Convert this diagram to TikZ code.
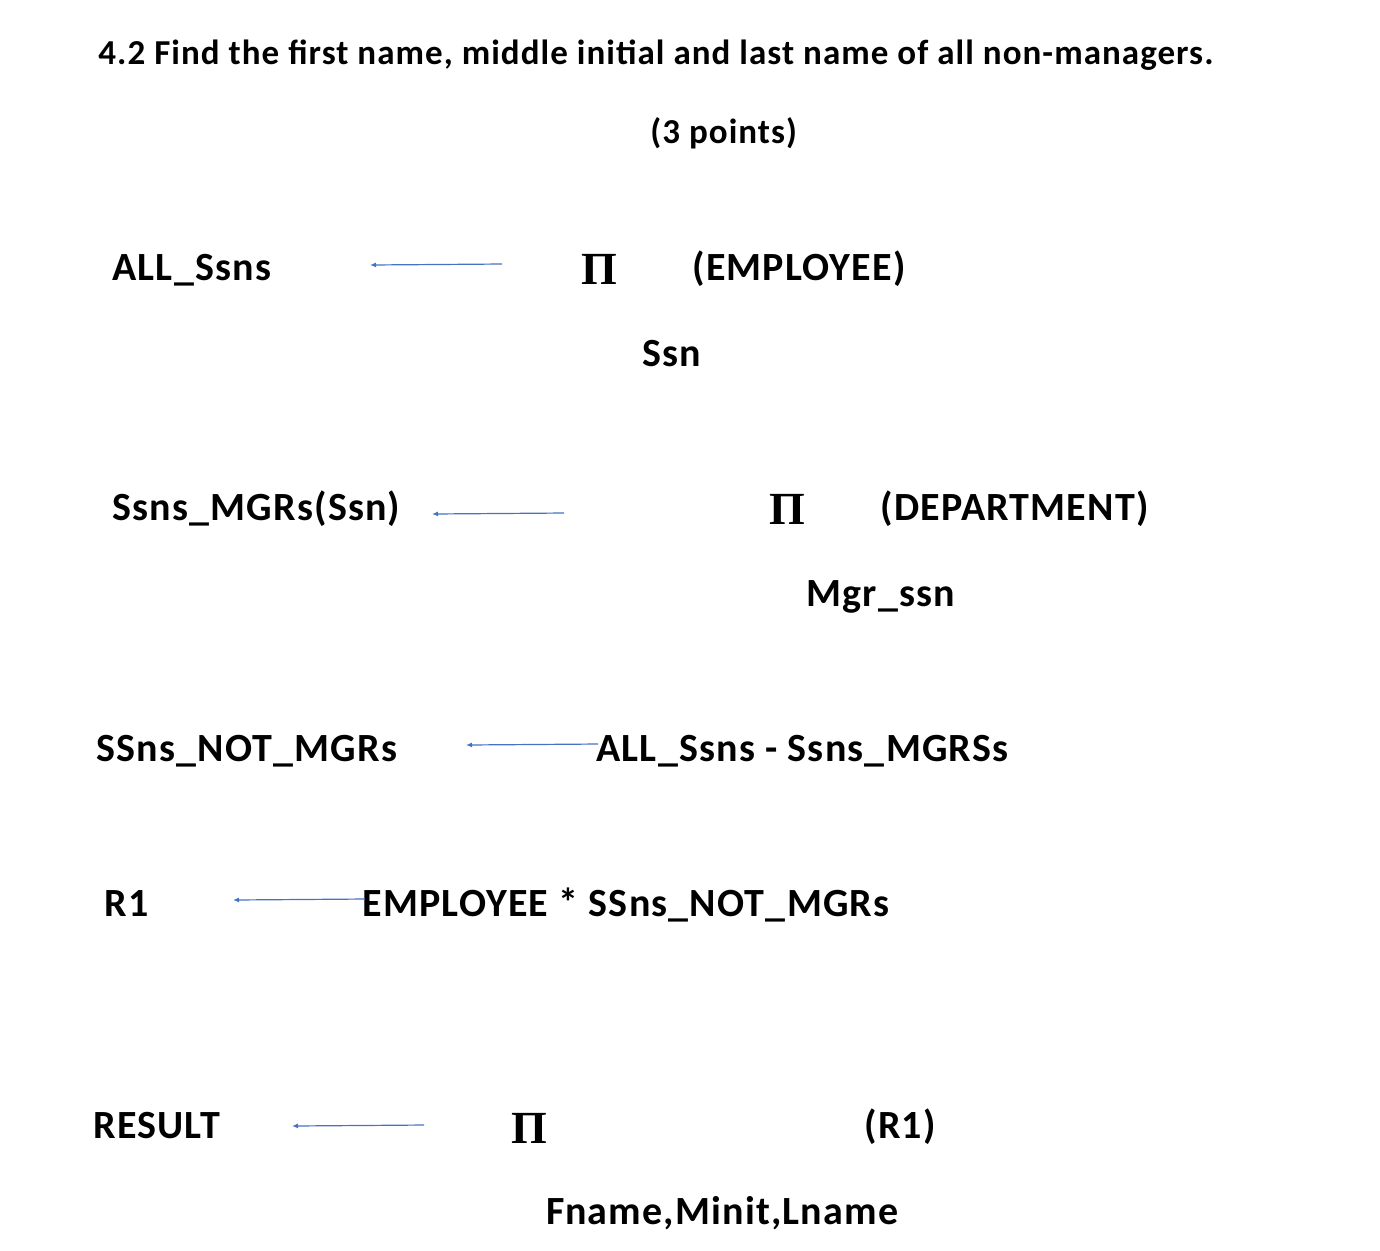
\documentclass[tikz,border=0pt]{standalone}
\usepackage{fontspec}
\setmainfont{Carlito}[LetterSpace=3]
\newfontfamily\pifont{Liberation Serif}
\usetikzlibrary{arrows.meta}
\definecolor{arrblue}{HTML}{4472C4}
\begin{document}
\begin{tikzpicture}[x=0.5pt,y=-0.5pt,
  lbl/.style={anchor=base west,inner sep=0pt,font=\fontsize{20}{22}\selectfont\bfseries},
  pisym/.style={anchor=base west,inner sep=0pt,font=\pifont\fontsize{23}{26}\selectfont\bfseries},
  arr/.style={draw=arrblue,line width=0.6pt,-{Latex[length=3pt,width=2.5pt]}}]
\useasboundingbox (0,0) rectangle (1380,1250);
\node[lbl,font=\fontsize{17.5}{20}\selectfont\bfseries] (title) at (98,64) {4.2 Find the first name, middle initial and last name of all non-managers.};
\node[lbl,font=\fontsize{17.5}{20}\selectfont\bfseries] (pts) at (650,143) {(3 points)};
\node[lbl] (a1) at (112,280) {ALL\_Ssns};
\node[pisym] (p1) at (581,284) {Π};
\node[lbl] (e1) at (692,280) {(EMPLOYEE)};
\node[lbl] (s1) at (642,366) {Ssn};
\coordinate (t1) at (502,264); \coordinate (h1) at (370,265);
\draw[arr] (t1) -- (h1);
\node[lbl] (a2) at (112,520) {Ssns\_MGRs(Ssn)};
\node[pisym] (p2) at (769,524) {Π};
\node[lbl] (e2) at (880,520) {(DEPARTMENT)};
\node[lbl] (s2) at (806,606) {Mgr\_ssn};
\coordinate (t2) at (564,513); \coordinate (h2) at (432,514);
\draw[arr] (t2) -- (h2);
\node[lbl] (a3) at (96,761) {SSns\_NOT\_MGRs};
\node[lbl] (e3) at (596,761) {ALL\_Ssns - Ssns\_MGRSs};
\coordinate (t3) at (598,744); \coordinate (h3) at (466,745);
\draw[arr] (t3) -- (h3);
\node[lbl] (a4) at (104,916) {R1};
\node[lbl] (e4) at (362,916) {EMPLOYEE * SSns\_NOT\_MGRs};
\coordinate (t4) at (365,899); \coordinate (h4) at (233,900);
\draw[arr] (t4) -- (h4);
\node[lbl] (a5) at (93,1138) {RESULT};
\node[pisym] (p5) at (511,1143) {Π};
\node[lbl] (e5) at (864,1138) {(R1)};
\node[lbl] (s5) at (546,1224) {Fname,Minit,Lname};
\coordinate (t5) at (424,1125); \coordinate (h5) at (292,1126);
\draw[arr] (t5) -- (h5);
\end{tikzpicture}
\end{document}
